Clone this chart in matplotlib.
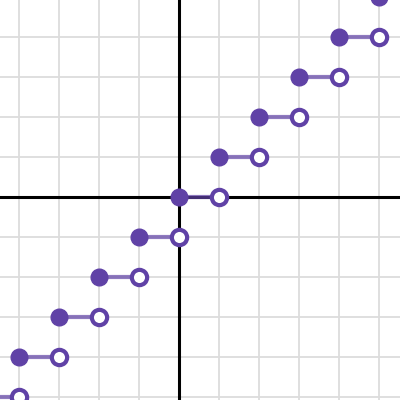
import matplotlib.pyplot as plt
import numpy as np

steps = list(range(-5, 6))  # floor(x) = n on [n, n+1)

fig = plt.figure(figsize=(4, 4), dpi=100)
ax = fig.add_axes([0, 0, 1, 1])
xmin, xmax = -4.475, 5.525
ymin, ymax = -5.075, 4.925
ax.set_xlim(xmin, xmax)
ax.set_ylim(ymin, ymax)

for v in range(-6, 7):
    ax.axvline(v, color='#dcdcdc', lw=1.3, zorder=0)
    ax.axhline(v, color='#dcdcdc', lw=1.3, zorder=0)
ax.axvline(0, color='black', lw=2.2, zorder=1)
ax.axhline(0, color='black', lw=2.2, zorder=1)

purple = '#6042a6'
for n in steps:
    ax.plot([n, n + 1], [n, n], color=purple, alpha=0.7, lw=3, zorder=2, solid_capstyle='butt')
    ax.plot(n + 1, n, 'o', ms=11, mfc='white', mec=purple, mew=3, zorder=3)
for n in steps:
    ax.plot(n, n, 'o', ms=12, color=purple, zorder=4)

ax.axis('off')
fig.savefig('out.png', dpi=100)
